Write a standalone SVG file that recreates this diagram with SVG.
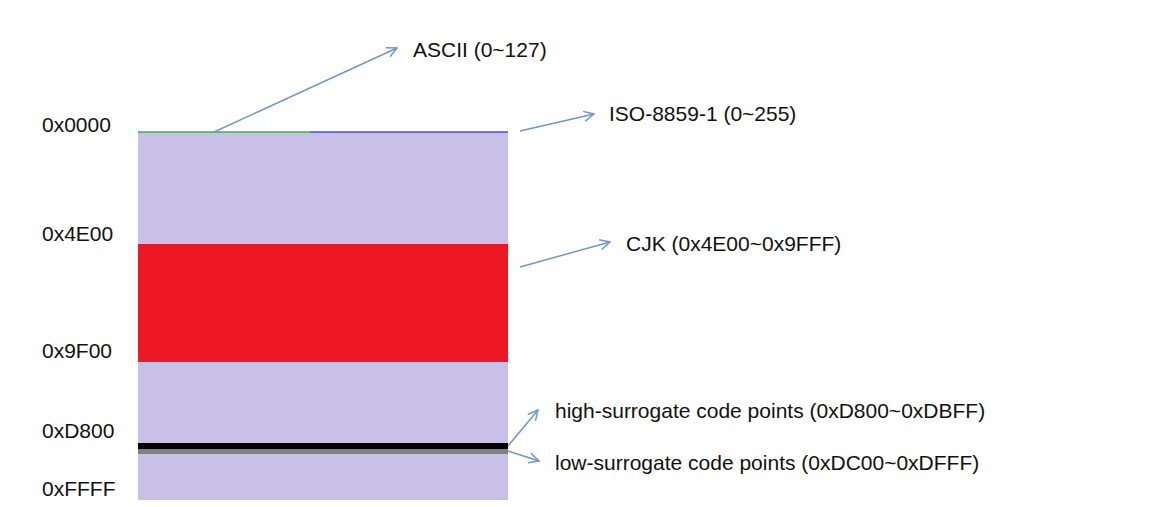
<svg xmlns="http://www.w3.org/2000/svg" width="1174" height="507" viewBox="0 0 1174 507">
<style>
text{font-family:"Liberation Sans",Arial,sans-serif;font-size:21px;fill:#111}
.c{stroke:#6f97c8;stroke-width:1.5;fill:none;marker-end:url(#a)}
</style>
<defs><marker id="a" viewBox="0 0 12 12" refX="11" refY="6" markerWidth="12" markerHeight="12" markerUnits="userSpaceOnUse" orient="auto"><path d="M1,1 L11,6 L1,11" fill="none" stroke="#6f97c8" stroke-width="1.5"/></marker></defs>
<rect width="1174" height="507" fill="#fff"/>
<g id="bar">
<rect x="138" y="132" width="370" height="368" fill="#c8c0e6"/>
<rect x="138" y="244" width="370" height="118" fill="#ed1823"/>
<rect x="138" y="443" width="370" height="6" fill="#000"/>
<rect x="138" y="449" width="370" height="5" fill="#808080"/>
<line x1="138" y1="132" x2="310" y2="132" stroke="#3cb64a" stroke-width="1.5"/>
<line x1="310" y1="132" x2="508" y2="132" stroke="#4a4fd6" stroke-width="1.5"/>
</g>
<g id="axis">
<text x="42" y="132">0x0000</text>
<text x="42" y="241">0x4E00</text>
<text x="42" y="358">0x9F00</text>
<text x="42" y="438">0xD800</text>
<text x="42" y="496">0xFFFF</text>
</g>
<g id="connectors">
<line class="c" x1="214" y1="132" x2="397" y2="48"/>
<line class="c" x1="520" y1="131" x2="594" y2="114"/>
<line class="c" x1="520" y1="267" x2="610" y2="242"/>
<line class="c" x1="508" y1="446" x2="538" y2="410"/>
<line class="c" x1="508" y1="451" x2="539" y2="461"/>
</g>
<g id="labels">
<text x="413" y="57">ASCII (0~127)</text>
<text x="609" y="121">ISO-8859-1 (0~255)</text>
<text x="626" y="251">CJK (0x4E00~0x9FFF)</text>
<text x="555" y="418">high-surrogate code points (0xD800~0xDBFF)</text>
<text x="555" y="470">low-surrogate code points (0xDC00~0xDFFF)</text>
</g>
</svg>
